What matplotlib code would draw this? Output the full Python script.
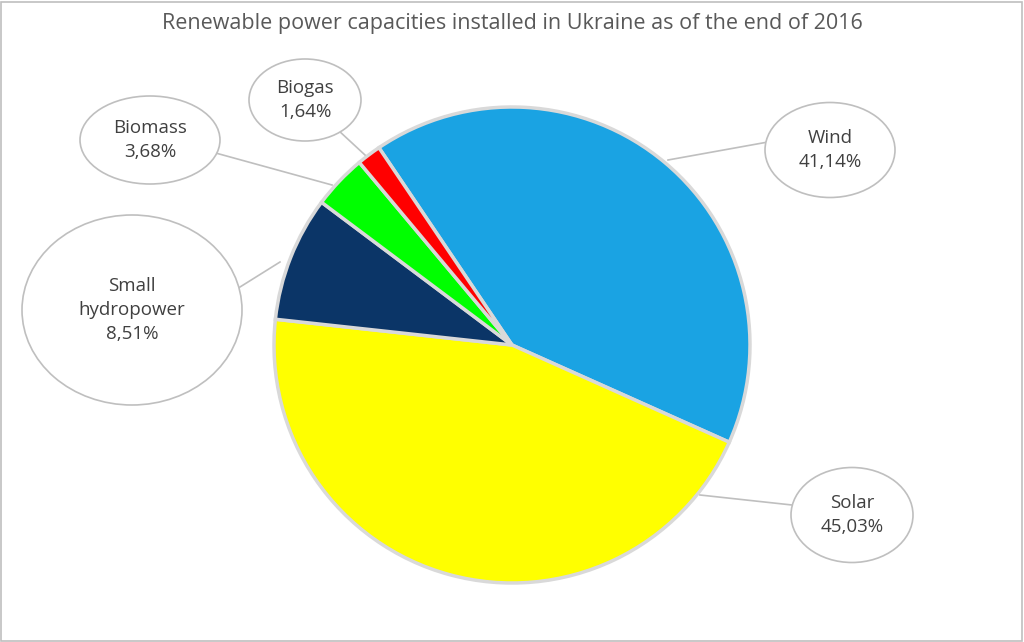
import matplotlib
matplotlib.use("Agg")
import matplotlib.pyplot as plt
from matplotlib.patches import Ellipse, Rectangle

labels = ["Wind", "Solar", "Small\nhydropower", "Biomass", "Biogas"]
values = [41.14, 45.03, 8.51, 3.68, 1.64]
colors = ["#1aa3e3", "#ffff00", "#0b3567", "#00ff00", "#ff0000"]

fig = plt.figure(figsize=(10.24, 6.42), dpi=100)
ax = fig.add_axes([0, 0, 1, 1])
ax.set_xlim(0, 1024); ax.set_ylim(0, 642); ax.axis("off")
ax.add_patch(Rectangle((1, 1), 1021, 639, fill=False, ec="#bfbfbf", lw=1.2))

H = 642
ax.pie(values, colors=colors, startangle=124, counterclock=False,
       center=(512, H - 345), radius=238,
       wedgeprops=dict(edgecolor="#d9d9d9", linewidth=2.5), frame=True)
ax.set_xlim(0, 1024); ax.set_ylim(0, 642); ax.axis("off")
ax.set_aspect("equal")

bubbles = [
    (830, 150, 130, 95, (668, 160), (768, 142)),
    (852, 515, 122, 95, (700, 495), (792, 505)),
    (132, 310, 220, 190, (280, 262), (232, 292)),
    (150, 140, 140, 88, (332, 185), (212, 152)),
    (305, 100, 112, 82, (365, 155), (338, 130)),
]
for (cx, cy, w, h, p1, p2), lab, v in zip(bubbles, labels, values):
    ax.plot([p1[0], p2[0]], [H - p1[1], H - p2[1]], color="#bfbfbf", lw=1.2, zorder=3)
    ax.add_patch(Ellipse((cx, H - cy), w, h, fc="white", ec="#bfbfbf", lw=1.2, zorder=4))
    txt = f"{lab}\n{v:.2f}%".replace(".", ",")
    ax.text(cx, H - cy, txt, ha="center", va="center", fontsize=13.5,
            color="#404040", zorder=5, linespacing=1.4, family="Open Sans")

ax.text(512, H - 24, "Renewable power capacities installed in Ukraine as of the end of 2016",
        ha="center", va="center", fontsize=15.5, color="#595959", family="Open Sans")

fig.savefig("out.png", dpi=100)
